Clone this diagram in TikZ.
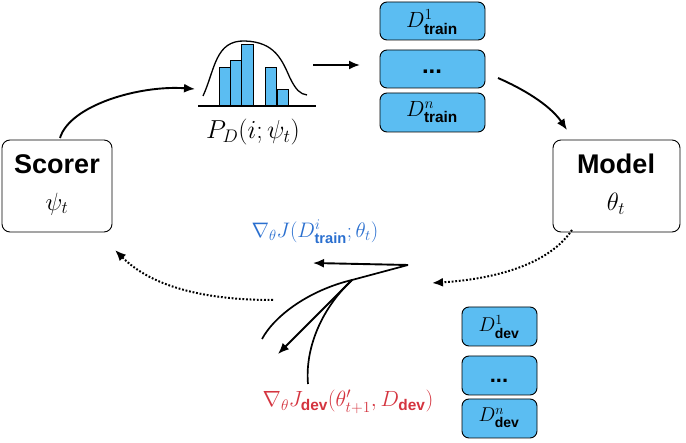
\RequirePackage{fix-cm}
\documentclass[tikz,border=0pt]{standalone}
\usepackage{amsmath}
\usepackage{fontspec}
\setsansfont{Liberation Sans}
\usetikzlibrary{arrows.meta}
\definecolor{dblue}{HTML}{5BBDF2}
\definecolor{tblue}{HTML}{2A6FCF}
\definecolor{tred}{HTML}{D4343F}
\newcommand{\sbf}[1]{\text{\sffamily\bfseries #1}}
\begin{document}
\begin{tikzpicture}[x=1pt,y=-1pt,
  box/.style={draw,rounded corners=8pt,line width=0.9pt,fill=white},
  dbox/.style={draw,rounded corners=7pt,line width=0.9pt,fill=dblue},
  bar/.style={draw,line width=0.9pt,fill=dblue},
  arr/.style={-{Latex[length=11pt,width=9pt]},line width=1.9pt},
  dot/.style={-{Latex[length=11pt,width=9pt]},line width=2pt,dash pattern=on 1.8pt off 1.8pt}]
\useasboundingbox (0,0) rectangle (686,443);
% boxes
\draw[box] (2,140) rectangle (112,232);
\node[font=\sffamily\bfseries\fontsize{27}{29}\selectfont] (sct) at (57,164) {Scorer};
\node[font=\fontsize{25}{27}\selectfont] (scp) at (57,204) {$\psi_t$};
\draw[box] (553,140) rectangle (680,232);
\node[font=\sffamily\bfseries\fontsize{27}{29}\selectfont] (mt) at (616,164) {Model};
\node[font=\fontsize{25}{27}\selectfont] (mp) at (616,204) {$\theta_t$};
% histogram
\draw[bar] (219,106) rectangle (230,67);
\draw[bar] (230,106) rectangle (241,60);
\draw[bar] (241,106) rectangle (253,44);
\draw[bar] (265,106) rectangle (276,67);
\draw[bar] (277,106) rectangle (288,89);
\draw[line width=1.5pt] (198,106) -- (316,106);
\draw[line width=1.3pt] (203,96) .. controls (215,70) and (215,40) .. (245,41)
  .. controls (275,42) and (282,60) .. (290,78) .. controls (296,90) and (300,94) .. (307,95);
\node[font=\fontsize{26}{28}\selectfont] (pd) at (253,132) {$P_D(i;\psi_t)$};
\coordinate (hl) at (195,89);
\coordinate (hr) at (313,65);
% train boxes
\draw[dbox] (380,2) rectangle (485,40);
\node[font=\fontsize{22}{24}\selectfont] (t1) at (432,22) {$D^1_{\sbf{train}}$};
\draw[dbox] (380,50) rectangle (485,88);
\node[font=\sffamily\bfseries\fontsize{24}{24}\selectfont] (td) at (432,72) {...};
\draw[dbox] (380,93) rectangle (485,132);
\node[font=\fontsize{22}{24}\selectfont] (tn) at (432,112) {$D^n_{\sbf{train}}$};
% dev boxes
\draw[dbox] (462,307) rectangle (537,346);
\node[font=\fontsize{20}{22}\selectfont] (d1) at (499,327) {$D^1_{\sbf{dev}}$};
\draw[dbox] (462,356) rectangle (537,395);
\node[font=\sffamily\bfseries\fontsize{22}{22}\selectfont] (dd) at (499,381) {...};
\draw[dbox] (462,399) rectangle (537,438);
\node[font=\fontsize{20}{22}\selectfont] (dn) at (499,418) {$D^n_{\sbf{dev}}$};
% arrows
\draw[arr] (hr) -- (360,65);
\coordinate (a1) at (498,78);
\coordinate (a2) at (567,130);
\draw[arr] (a1) .. controls (530,92) and (552,108) .. (a2);
\coordinate (b1) at (60,138);
\draw[arr] (b1) .. controls (70,105) and (140,85) .. (hl);
\coordinate (m1) at (572,230);
\coordinate (m2) at (432,283);
\draw[dot] (m1) .. controls (545,270) and (480,280) .. (m2);
\coordinate (s1) at (273,300);
\coordinate (s2) at (115,250);
\draw[dot] (s1) .. controls (200,300) and (150,285) .. (s2);
% gradients
\node[text=tblue,font=\fontsize{21}{22}\selectfont] (gt) at (315,232) {$\nabla_\theta J(D^i_{\sbf{train}};\theta_t)$};
\node[text=tred,font=\fontsize{22}{24}\selectfont] (gd) at (348,402) {$\nabla_\theta J_{\sbf{dev}}(\theta'_{t+1},D_{\sbf{dev}})$};
\coordinate (g0) at (408,265);
\coordinate (g1) at (352,280);
\draw[arr] (g0) -- (313,263);
\draw[line width=1.7pt] (g0) -- (g1) .. controls (310,290) and (275,315) .. (262,339);
\draw[line width=1.7pt] (g1) .. controls (320,310) and (305,350) .. (308,384);
\draw[arr] (g1) -- (278,354);
\end{tikzpicture}
\end{document}
